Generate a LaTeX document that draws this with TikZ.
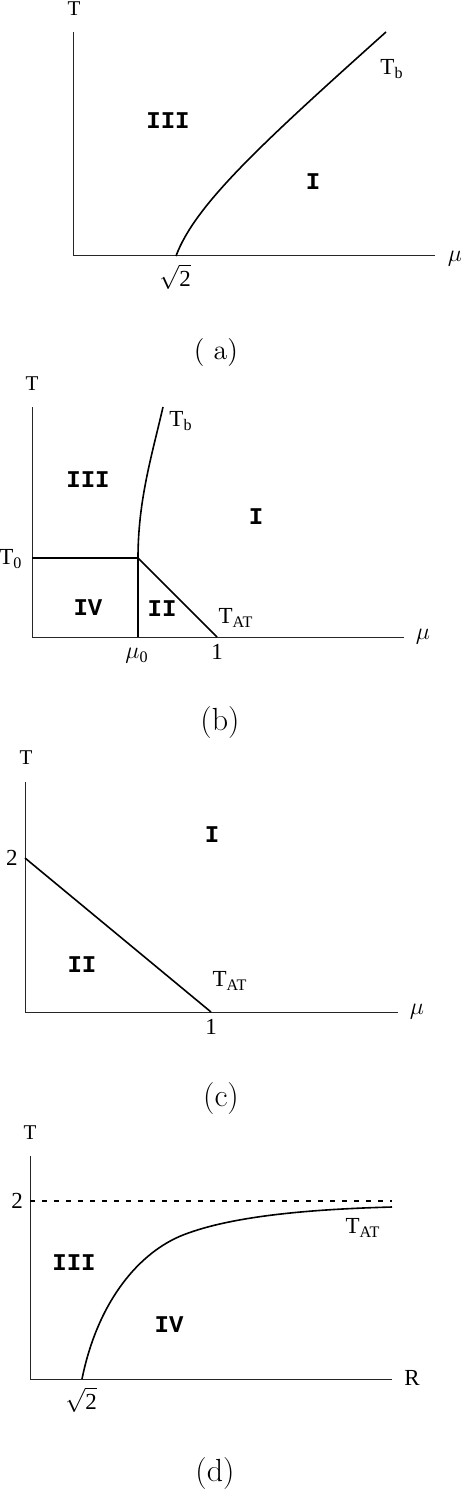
\documentclass[tikz,border=0pt]{standalone}
\usepackage{fontspec}
\setmainfont{Liberation Serif}
\newfontfamily\romfont{Liberation Mono}
\usetikzlibrary{positioning}

\begin{document}
\begin{tikzpicture}[
    x=0.5pt,y=-0.5pt,
    axis/.style={line width=0.5pt,black!85},
    curve/.style={line width=0.8pt,black},
    guide/.style={line width=0.6pt,black,dash pattern=on 2.5pt off 3.5pt},
    lab/.style={font=\fontsize{11.5}{13}\selectfont,inner sep=0pt},
    axlab/.style={font=\fontsize{10.5}{12}\selectfont,inner sep=0pt},
    phase/.style={font=\romfont\bfseries\fontsize{12}{14}\selectfont,inner sep=0pt},
    caption/.style={font=\fontfamily{lmr}\fontsize{16}{18}\selectfont,inner sep=0pt}
]
    \useasboundingbox (0,0) rectangle (460,1492);

    \coordinate (ao) at (73,256);
    \coordinate (ay) at (73,32);
    \coordinate (ax) at (435,256);
    \draw[axis] (ay) -- (ao) -- (ax);
    \coordinate (as) at (176,256);
    \coordinate (ae) at (386,32);
    \draw[curve] (as) .. controls (195,205) and (260,145) .. (ae);
    \node[axlab] (aT) at (74,9) {T};
    \node[lab] (amu) at (455,259) {$\mu$};
    \node[lab] (aTb) at (392,69) {T\textsubscript{b}};
    \node[phase] (aIII) at (168,121) {III};
    \node[phase] (aI) at (313,182) {I};
    \node[lab] (asq) at (175,277) {$\sqrt{\mbox{2}}$};
    \node[caption,font=\fontfamily{lmr}\fontsize{14}{16}\selectfont] (acap) at (216,353) {( a)};

    \coordinate (bo) at (32,637);
    \coordinate (by) at (32,407);
    \coordinate (bx) at (404,637);
    \draw[axis] (by) -- (bo) -- (bx);
    \coordinate (bt) at (32,558);
    \coordinate (bj) at (138,558);
    \coordinate (bm) at (138,637);
    \coordinate (bone) at (217,637);
    \coordinate (be) at (163,407);
    \draw[curve] (bt) -- (bj) -- (bm);
    \draw[curve] (bj) -- (bone);
    \draw[curve] (bj) .. controls (138,500) and (152,455) .. (be);
    \node[axlab] (bT) at (32,384) {T};
    \node[lab] (bT0) at (11,559) {T\textsubscript{0}};
    \node[lab] (bTb) at (181,421) {T\textsubscript{b}};
    \node[phase] (bIII) at (88,480) {III};
    \node[phase] (bI) at (256,517) {I};
    \node[phase] (bIV) at (88,608) {IV};
    \node[phase] (bII) at (162,609) {II};
    \node[lab] (bTAT) at (236,618) {T\textsubscript{AT}};
    \node[lab] (bmu) at (423,637) {$\mu$};
    \node[lab] (bmu0) at (137,656) {$\mu$\textsubscript{0}};
    \node[lab] (b1) at (217,652) {1};
    \node[caption] (bcap) at (220,723) {(b)};

    \coordinate (co) at (25,1012);
    \coordinate (cy) at (25,782);
    \coordinate (cx) at (398,1012);
    \draw[axis] (cy) -- (co) -- (cx);
    \coordinate (ctwo) at (25,858);
    \coordinate (cone) at (211,1012);
    \draw[curve] (ctwo) -- (cone);
    \node[axlab] (cT) at (26,758) {T};
    \node[lab] (c2) at (12,858) {2};
    \node[phase] (cI) at (212,835) {I};
    \node[phase] (cII) at (82,965) {II};
    \node[lab] (cTAT) at (230,981) {T\textsubscript{AT}};
    \node[lab] (cmu) at (417,1012) {$\mu$};
    \node[lab] (c1) at (211,1027) {1};
    \node[caption] (ccap) at (221,1099) {(c)};

    \coordinate (do) at (30,1379);
    \coordinate (dy) at (30,1156);
    \coordinate (dx) at (392,1379);
    \draw[axis] (dy) -- (do) -- (dx);
    \coordinate (dtwo) at (30,1201);
    \coordinate (dend) at (392,1201);
    \draw[guide] (dtwo) -- (dend);
    \coordinate (ds) at (82,1379);
    \coordinate (dk) at (183,1235);
    \coordinate (de) at (392,1207);
    \draw[curve] (ds) .. controls (98,1300) and (140,1252) .. (dk)
        .. controls (235,1214.6) and (320,1209) .. (de);
    \node[axlab] (dT) at (30,1133) {T};
    \node[lab] (d2) at (17,1201) {2};
    \node[phase] (dIII) at (74,1263) {III};
    \node[phase] (dIV) at (169,1325) {IV};
    \node[lab] (dTAT) at (363,1228) {T\textsubscript{AT}};
    \node[lab] (dR) at (412,1378) {R};
    \node[lab] (dsq) at (81,1400) {$\sqrt{\mbox{2}}$};
    \node[caption] (dcap) at (215,1473) {(d)};
\end{tikzpicture}
\end{document}
